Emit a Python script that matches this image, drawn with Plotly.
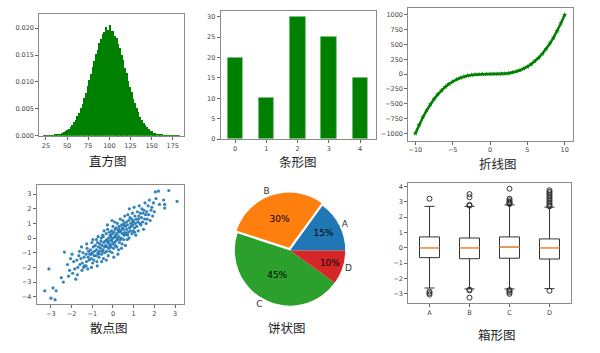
import plotly.graph_objects as go

# ---------------- data ----------------
# histogram (density per bin of width 2)
hist_x = [23, 25, 27, 29, 31, 33, 35, 37, 39, 41, 43, 45, 47, 49, 51, 53, 55, 57, 59, 61,
          63, 65, 67, 69, 71, 73, 75, 77, 79, 81, 83, 85, 87, 89, 91, 93, 95, 97, 99,
          101, 103, 105, 107, 109, 111, 113, 115, 117, 119, 121, 123, 125, 127, 129, 131,
          133, 135, 137, 139, 141, 143, 145, 147, 149, 151, 153, 155, 157, 159, 161, 163,
          165, 167, 169, 171, 173, 175, 177, 179, 181, 183]
hist_y = [0.00001, 0.00002, 0.00002, 0.00003, 0.00005, 0.00008, 0.00010, 0.00015, 0.00018,
          0.00027, 0.00033, 0.00048, 0.00062, 0.00080, 0.00102, 0.00121, 0.00165, 0.00193,
          0.00250, 0.00292, 0.00368, 0.00425, 0.00520, 0.00590, 0.00705, 0.00795, 0.00920,
          0.01040, 0.01140, 0.01280, 0.01385, 0.01510, 0.01600, 0.01725, 0.01790, 0.01885,
          0.01920, 0.02010, 0.01960,
          0.02050, 0.01950, 0.01940, 0.01860, 0.01815, 0.01700, 0.01625, 0.01490, 0.01400,
          0.01255, 0.01160, 0.01020, 0.00905, 0.00810, 0.00690, 0.00605, 0.00505, 0.00440,
          0.00352, 0.00300, 0.00240, 0.00200, 0.00155, 0.00128, 0.00095, 0.00078, 0.00058,
          0.00044, 0.00035, 0.00025, 0.00020, 0.00013, 0.00010, 0.00007, 0.00004, 0.00003,
          0.00002, 0.00002, 0.00001, 0.00001, 0.00001, 0.00001]

# bar chart
bar_x = [0, 1, 2, 3, 4]
bar_y = [20, 10, 30, 25, 15]

# line chart
line_x = [-10, -9.5, -9, -8.5, -8, -7.5, -7, -6.5, -6, -5.5, -5, -4.5, -4, -3.5, -3, -2.5,
          -2, -1.5, -1, -0.5, 0, 0.5, 1, 1.5, 2, 2.5, 3, 3.5, 4, 4.5, 5, 5.5, 6, 6.5, 7,
          7.5, 8, 8.5, 9, 9.5, 10]
line_y = [-1000, -857.4, -729, -614.1, -512, -421.9, -343, -274.6, -216, -166.4, -125,
          -91.1, -64, -42.9, -27, -15.6, -8, -3.4, -1, -0.1, 0, 0.1, 1, 3.4, 8, 15.6, 27,
          42.9, 64, 91.1, 125, 166.4, 216, 274.6, 343, 421.9, 512, 614.1, 729, 857.4, 1000]

# scatter chart
scatter_pts = [
    (-3.3, -3.6), (-3.1, -2.1), (-3.0, -4.1), (-2.8, -4.2), (-2.9, -3.4), (-2.75, -3.6),
    (-2.4, -3.0), (-2.35, -0.95), (-2.5, -2.7), (2.7, 3.25), (3.1, 2.5), (2.2, 3.2),
    (2.05, 3.15), (2.5, 2.3), (2.45, 2.6), (2.25, 2.3), (2.5, 2.05),
    (-2.2, -1.8), (-2.15, -2.6), (-2.1, -2.2), (-2.05, -1.4),
    (-1.95, -2.4), (-1.9, -1.6), (-1.85, -2.1), (-1.98, -1.1), (-1.8, -2.8),
    (-1.75, -1.5), (-1.7, -2.0), (-1.65, -1.2), (-1.72, -2.5), (-1.6, -1.8), (-1.62, -0.9),
    (-1.55, -1.4), (-1.5, -2.2), (-1.45, -1.0), (-1.48, -1.7), (-1.4, -1.3), (-1.42, -2.0),
    (-1.52, -0.6), (-1.38, -1.9),
    (-1.3, -1.1), (-1.28, -1.6), (-1.25, -0.7), (-1.22, -2.1), (-1.2, -1.3), (-1.18, -0.9),
    (-1.3, -1.9), (-1.15, -1.5), (-1.27, -0.4), (-1.12, -1.1),
    (-1.08, -0.8), (-1.05, -1.4), (-1.02, -0.3), (-1.0, -1.0), (-0.98, -1.7), (-0.95, -0.6),
    (-0.92, -1.2), (-1.04, -2.0), (-0.9, -0.9), (-0.97, -0.1), (-1.06, -1.1), (-0.93, -1.5),
    (-0.85, -0.5), (-0.82, -1.2), (-0.8, -0.8), (-0.78, -1.6), (-0.75, -0.3), (-0.73, -1.0),
    (-0.7, -0.6), (-0.68, -1.3), (-0.72, 0.1), (-0.66, -0.9), (-0.8, -0.1), (-0.76, -1.9),
    (-0.64, -0.4), (-0.7, -1.1),
    (-0.6, -0.7), (-0.58, -0.2), (-0.55, -1.1), (-0.53, -0.5), (-0.5, 0.2), (-0.48, -0.8),
    (-0.46, -1.4), (-0.45, -0.3), (-0.43, 0.5), (-0.41, -0.6), (-0.52, -0.9), (-0.57, 0.0),
    (-0.4, -1.0), (-0.47, 0.1), (-0.55, -1.6), (-0.38, -0.2),
    (-0.35, -0.5), (-0.33, 0.3), (-0.31, -0.9), (-0.3, -0.1), (-0.28, -0.6), (-0.26, 0.6),
    (-0.25, -0.3), (-0.23, -1.2), (-0.21, 0.0), (-0.2, -0.7), (-0.18, 0.4), (-0.17, -0.4),
    (-0.15, -0.9), (-0.14, 0.2), (-0.32, -1.5), (-0.27, 0.9), (-0.22, -0.2), (-0.13, -0.5),
    (-0.1, 0.1), (-0.09, -0.6), (-0.07, 0.5), (-0.06, -0.2), (-0.04, -1.0), (-0.03, 0.3),
    (-0.01, -0.4), (0.0, 0.8), (0.02, 0.0), (0.03, -0.7), (0.05, 0.4), (0.06, -0.3),
    (0.08, 1.1), (0.09, 0.1), (0.11, -0.5), (-0.05, 1.2), (0.04, -1.3), (0.1, 0.6), (-0.08, -0.1),
    (0.13, 0.2), (0.14, -0.2), (0.16, 0.7), (0.18, -0.6), (0.2, 0.3), (0.21, 1.0), (0.23, -0.1),
    (0.25, 0.5), (0.27, -0.8), (0.28, 0.1), (0.3, 0.8), (0.31, -0.3), (0.33, 0.4), (0.35, 1.3),
    (0.24, -1.1), (0.19, 0.0), (0.29, 0.6), (0.36, -0.1),
    (0.38, 0.5), (0.4, 0.0), (0.42, 0.9), (0.44, -0.4), (0.46, 0.3), (0.48, 1.2), (0.5, 0.6),
    (0.52, -0.1), (0.53, 0.9), (0.55, 0.2), (0.57, 1.5), (0.58, 0.4), (0.6, -0.5), (0.61, 0.8),
    (0.45, 0.7), (0.54, 1.0), (0.41, -0.7),
    (0.63, 0.3), (0.65, 1.1), (0.67, 0.6), (0.69, -0.1), (0.7, 0.9), (0.72, 1.6), (0.74, 0.4),
    (0.76, 1.2), (0.78, 0.0), (0.8, 0.7), (0.82, 1.4), (0.84, 0.5), (0.86, 1.0), (0.71, 0.2),
    (0.79, 2.0),
    (0.88, 0.8), (0.9, 1.3), (0.92, 0.3), (0.94, 1.7), (0.96, 0.9), (0.98, 0.5), (1.0, 1.2),
    (1.02, 2.1), (1.04, 0.7), (1.06, 1.5), (1.08, 1.0), (1.1, 0.2), (0.95, 1.1), (1.05, 0.4),
    (1.13, 1.3), (1.15, 0.8), (1.18, 1.8), (1.2, 1.1), (1.22, 0.5), (1.25, 1.5), (1.27, 2.2),
    (1.3, 1.0), (1.32, 1.7), (1.35, 0.9), (1.24, 1.3),
    (1.38, 1.4), (1.4, 2.0), (1.43, 1.1), (1.45, 1.7), (1.48, 0.6), (1.5, 1.9), (1.53, 1.3),
    (1.55, 2.4), (1.58, 1.6), (1.6, 1.0),
    (1.63, 1.8), (1.66, 1.3), (1.7, 2.2), (1.73, 1.6), (1.76, 2.6), (1.8, 1.2), (1.84, 1.9),
    (1.88, 2.1), (1.92, 1.5), (1.96, 2.4), (2.0, 1.8), (2.08, 2.7),
]
scatter_x = [p[0] for p in scatter_pts]
scatter_y = [p[1] for p in scatter_pts]

# pie chart
pie_labels = ["A", "B", "C", "D"]
pie_values = [15, 30, 45, 10]
pie_colors = ["#1f77b4", "#ff7f0e", "#2ca02c", "#d62728"]
pie_pull = [0, 0.05, 0, 0]

# box chart
box_labels = ["A", "B", "C", "D"]
box_pos = [1, 2, 3, 4]
box_q1 = [-0.64, -0.71, -0.68, -0.73]
box_median = [0.0, 0.0, 0.05, 0.0]
box_q3 = [0.71, 0.64, 0.71, 0.58]
box_low = [-2.62, -2.68, -2.68, -2.66]
box_high = [2.7, 2.7, 2.8, 2.65]
box_outliers = [
    [3.2, -2.85, -2.95, -3.05],
    [2.75, 2.8, 3.3, 3.5, -2.72, -2.78, -3.25],
    [2.85, 2.9, 2.95, 3.0, 3.1, 3.2, 3.85, -2.75, -2.8, -2.9, -3.0],
    [2.7, 2.75, 2.85, 2.95, 3.05, 3.15, 3.25, 3.35, 3.45, 3.55, 3.65, 3.75, -2.8],
]

titles = ["直方图", "条形图", "折线图", "散点图", "饼状图", "箱形图"]

# ---------------- figure ----------------
W, H = 600, 353
def fx(px):
    return px / W
def fy(py):
    return 1 - py / H

fig = go.Figure()

fig.add_trace(go.Bar(x=hist_x, y=hist_y, width=2, marker_color="green",
                     marker_line_width=0, xaxis="x", yaxis="y"))
fig.add_trace(go.Bar(x=bar_x, y=bar_y, width=0.5, marker_color="green",
                     marker_line_color="#7fbf7f", marker_line_width=0.6,
                     xaxis="x2", yaxis="y2"))
fig.add_trace(go.Scatter(x=line_x, y=line_y, mode="lines+markers",
                         line=dict(color="green", width=2.5),
                         marker=dict(symbol="star", size=4, color="green"),
                         xaxis="x3", yaxis="y3"))
fig.add_trace(go.Scatter(x=scatter_x, y=scatter_y, mode="markers",
                         marker=dict(size=3.2, color="#1f77b4", opacity=0.9),
                         xaxis="x4", yaxis="y4"))

pie_dom = dict(x=[fx(231.2), fx(348.8)], y=[fy(311.8), fy(194.2)])
pie_rot = 36
fig.add_trace(go.Pie(labels=pie_labels, values=pie_values, sort=False,
                     direction="counterclockwise", rotation=pie_rot, pull=pie_pull,
                     marker=dict(colors=pie_colors, line=dict(width=0)),
                     texttemplate="%{percent:.0%}", textposition="inside",
                     insidetextorientation="horizontal",
                     textfont=dict(size=9, color="black", family="DejaVu Sans"),
                     domain=pie_dom, hoverinfo="skip"))
fig.add_trace(go.Pie(labels=pie_labels, values=pie_values, sort=False,
                     direction="counterclockwise", rotation=pie_rot, pull=pie_pull,
                     marker=dict(colors=["rgba(0,0,0,0)"] * 4, line=dict(width=0)),
                     textinfo="label", textposition="outside",
                     textfont=dict(size=9, color="#333", family="DejaVu Sans"),
                     domain=pie_dom, hoverinfo="skip"))

for i in range(4):
    fig.add_trace(go.Box(x=[box_pos[i]], q1=[box_q1[i]], median=[box_median[i]],
                         q3=[box_q3[i]], lowerfence=[box_low[i]], upperfence=[box_high[i]],
                         width=0.5, whiskerwidth=0.5, fillcolor="rgba(0,0,0,0)",
                         line=dict(color="#333", width=1), boxpoints=False,
                         xaxis="x5", yaxis="y5"))
    fig.add_trace(go.Box(x=[box_pos[i]], q1=[box_median[i]], median=[box_median[i]],
                         q3=[box_median[i]], lowerfence=[box_median[i]],
                         upperfence=[box_median[i]], width=0.5, whiskerwidth=0,
                         fillcolor="rgba(0,0,0,0)",
                         line=dict(color="#ff9a4a", width=1.5), boxpoints=False,
                         xaxis="x5", yaxis="y5"))
    fig.add_trace(go.Scatter(x=[box_pos[i]] * len(box_outliers[i]), y=box_outliers[i],
                             mode="markers",
                             marker=dict(symbol="circle-open", size=5, color="#333",
                                         line=dict(width=1)),
                             xaxis="x5", yaxis="y5"))

tickfont = dict(size=6.5, color="#444", family="DejaVu Sans")
def ax(domain, anchor, **kw):
    d = dict(domain=domain, anchor=anchor, showline=True, mirror=True,
             linecolor="#8a8a8a", linewidth=1, ticks="outside", ticklen=3,
             tickcolor="#666", tickfont=tickfont, showgrid=False, zeroline=False,
             fixedrange=True)
    d.update(kw)
    return d

layout = dict(
    width=W, height=H, margin=dict(l=0, r=0, t=0, b=0),
    paper_bgcolor="white", plot_bgcolor="white", showlegend=False,
    bargap=0,
    xaxis=ax([fx(39.3), fx(184.3)], "y", range=[17.1, 188.7], tickvals=[25, 50, 75, 100, 125, 150, 175]),
    yaxis=ax([fy(136.7), fy(13.3)], "x", range=[0, 0.0226], tickvals=[0, 0.005, 0.01, 0.015, 0.02], tickformat=".3f"),
    xaxis2=ax([fx(220.7), fx(375.7)], "y2", range=[-0.46, 4.5], tickvals=bar_x),
    yaxis2=ax([fy(140), fy(10)], "x2", range=[0, 31.45], tickvals=[0, 5, 10, 15, 20, 25, 30]),
    xaxis3=ax([fx(408.3), fx(573.3)], "y3", range=[-10.95, 11.15], tickvals=[-10, -5, 0, 5, 10]),
    yaxis3=ax([fy(141.7), fy(7.3)], "x3", range=[-1123, 1111], tickvals=[-1000, -750, -500, -250, 0, 250, 500, 750, 1000]),
    xaxis4=ax([fx(36.7), fx(184.3)], "y4", range=[-3.69, 3.45], tickvals=[-3, -2, -1, 0, 1, 2, 3]),
    yaxis4=ax([fy(307.7), fy(187)], "x4", range=[-4.52, 3.6], tickvals=[-4, -3, -2, -1, 0, 1, 2, 3]),
    xaxis5=ax([fx(408.3), fx(570.7)], "y5", range=[0.47, 4.53], tickvals=box_pos, ticktext=box_labels),
    yaxis5=ax([fy(306.7), fy(185)], "x5", range=[-3.62, 4.2], tickvals=[-3, -2, -1, 0, 1, 2, 3, 4]),
)
fig.update_layout(**layout)

title_pos = [(108, 162), (298, 163), (497.5, 164.5), (109, 331), (286.7, 331), (497, 338)]
for t, (px, py) in zip(titles, title_pos):
    fig.add_annotation(text=t, x=fx(px), y=fy(py), xref="paper", yref="paper",
                       xanchor="center", yanchor="middle", showarrow=False,
                       font=dict(size=12.5, color="#222", family="Noto Sans CJK SC"))

fig.write_html("out.html")
